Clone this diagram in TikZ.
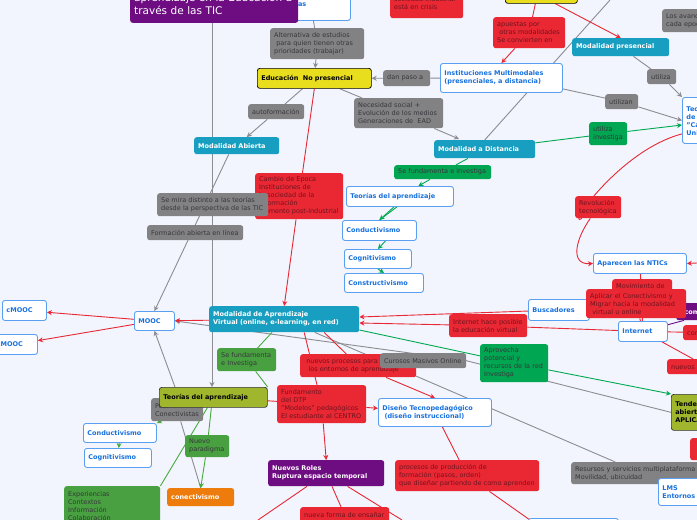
\documentclass[tikz,border=0pt]{standalone}
\usepackage{fontspec}
\setmainfont{DejaVu Sans}
\usetikzlibrary{arrows.meta,backgrounds}
\definecolor{bg}{RGB}{242,245,253}
\definecolor{teal}{RGB}{24,158,192}
\definecolor{gbox}{RGB}{130,130,132}
\definecolor{gtxt}{RGB}{55,55,60}
\definecolor{rbox}{RGB}{234,40,52}
\definecolor{rtxt}{RGB}{110,20,30}
\definecolor{gr1}{RGB}{0,166,81}
\definecolor{gr2}{RGB}{72,160,64}
\definecolor{yel}{RGB}{232,222,30}
\definecolor{ygr}{RGB}{160,182,44}
\definecolor{purp}{RGB}{110,12,130}
\definecolor{oran}{RGB}{238,124,12}
\definecolor{btxt}{RGB}{22,112,222}
\definecolor{bbrd}{RGB}{90,160,242}
\definecolor{lred}{RGB}{232,40,52}
\definecolor{lgr}{RGB}{140,140,145}
\definecolor{lgreen}{RGB}{0,170,80}
\definecolor{lgreen2}{RGB}{70,170,60}
\tikzset{
 fs/.style={font=\fontsize{6.5}{8}\selectfont},
 fsb/.style={font=\fontsize{6.5}{8}\selectfont\bfseries},
 base/.style={rounded corners=2.5pt,fs,align=left,inner xsep=4pt,inner ysep=1pt},
 wbox/.style={base,fill=white,draw=bbrd,line width=0.9pt,text=btxt,fsb},
 gbx/.style={base,fill=gbox,text=gtxt},
 rbx/.style={base,fill=rbox,text=rtxt},
 gnb/.style={base,fill=gr1,text=gtxt},
 gnb2/.style={base,fill=gr2,text=gtxt},
 tbx/.style={base,fill=teal,text=white,fsb},
 ybx/.style={base,fill=yel,draw=black,line width=0.7pt,fsb},
 ygb/.style={base,fill=ygr,draw=black!80,line width=0.7pt,fsb},
 pbx/.style={base,fill=purp,text=white,fsb},
 obx/.style={base,fill=oran,text=white,fsb},
 rl/.style={draw=lred,line width=0.9pt},
 gl/.style={draw=lgr,line width=0.9pt},
 grl/.style={draw=lgreen,line width=0.9pt},
 grl2/.style={draw=lgreen2,line width=0.9pt},
 ar/.style={-{Stealth[length=5pt,width=5pt]}},
}
\newcommand\nd[7]{\pgfmathsetmacro\tw{#5-8}\node[#2,anchor=north west,text width=\tw pt,minimum height=#6 pt] (#1) at (#3,#4) {#7};}
\begin{document}
\begin{tikzpicture}[x=1pt,y=-1pt]
\useasboundingbox (0,0) rectangle (697,520);
% nodes
\nd{col}{wbox}{268}{-20}{82}{40}{\ Colegios\\\ Escuelas}
\node[base,fill=purp,text=white,font=\fontsize{10.5}{12.5}\selectfont,anchor=south west,text width=160pt,minimum height=38pt] (tit) at (130,23) {aprendizaje en la Educación a\\través de las TIC};
\nd{soc}{rbx}{390}{-12}{73}{30}{sociedad industrial\\está en crisis}
\nd{ytop}{ybx}{505}{-20}{72}{23}{}
\nd{alt}{gbx}{270}{28}{94}{31}{Alternativa de estudios\\\ para quien tienen otras\\prioridades (trabajar)}
\nd{edu}{ybx}{257}{68}{114}{20}{Educación\ \ No presencial}
\nd{apu}{rbx}{493}{17}{72}{31}{apuestas por\\\ otras modalidades\\Se convierten en}
\nd{mpre}{tbx}{572}{38}{97}{18}{Modalidad presencial}
\nd{avan}{gbx}{662}{9}{70}{23}{Los avances de\\cada epoca}
\nd{inst}{wbox}{440}{63}{122}{29}{Instituciones Multimodales\\(presenciales, a distancia)}
\nd{dan}{gbx}{383}{70}{47}{16}{dan paso a}
\nd{nec}{gbx}{354}{98}{89}{30}{Necesidad social +\\Evolución de los medios\\Generaciones de\ \ EAD}
\nd{auto}{gbx}{248}{104}{56}{15}{autoformación}
\nd{mab}{tbx}{194}{137}{85}{17}{\centering Modalidad Abierta}
\nd{uti}{gbx}{647}{69}{29}{15}{utiliza}
\nd{utn}{gbx}{605}{94}{33}{15}{utilizan}
\nd{tec}{wbox}{682}{97}{60}{46}{Tecnologías\\de la\\"Cambio\\Universal"}
\nd{utin}{gnb}{589}{122}{38}{23}{utiliza\\investiga}
\nd{mdis}{tbx}{434}{140}{101}{18}{\centering Modalidad a Distancia}
\nd{sfi}{gnb}{394}{165}{97}{14}{Se fundamenta e investiga}
\nd{tea}{wbox}{346}{186}{107}{20}{\centering Teorías del aprendizaje}
\nd{con1}{wbox}{342}{220}{74}{20}{Conductivismo}
\nd{cog1}{wbox}{344}{249}{67}{19}{Cognitivismo}
\nd{cst1}{wbox}{344}{273}{79}{19}{Constructivismo}
\nd{camb}{rbx}{255}{173}{88}{46}{Cambio de Epoca\\Instituciones de\\la sociedad de la\\información\\Momento post-industrial}
\nd{mira}{gbx}{157}{193}{111}{23}{Se mira distinto a las teorías\\desde la perspectiva de las TIC}
\nd{form}{gbx}{147}{225}{96}{15}{Formación abierta en línea}
\nd{rev}{rbx}{575}{196}{46}{22}{Revolución\\tecnológica}
\nd{ntic}{wbox}{593}{253}{93}{20}{\centering Aparecen las NTICs}
\nd{mov}{rbx}{612}{279}{60}{14}{Movimiento de}
\nd{busc}{wbox}{528}{299}{61}{21}{\centering Buscadores}
\nd{comu}{pbx}{676}{303}{80}{17}{\ \ comunidades}
\nd{apl}{rbx}{586}{289}{100}{29}{Aplicar el Conectivismo y\\Migrar hacia la modalidad\\\ virtual u online}
\nd{inte}{wbox}{618}{321}{49}{20}{\centering Internet}
\nd{co}{rbx}{683}{325}{60}{15}{contenidos}
\nd{nue}{rbx}{667}{359}{80}{15}{nuevos servicios}
\nd{ihp}{rbx}{449}{314}{78}{23}{Internet hace posible\\la educación virtual}
\nd{mvir}{tbx}{209}{306}{150}{26}{Modalidad de Aprendizaje\\Virtual (online, e-learning, en red)}
\nd{mooc}{wbox}{134}{311}{40}{19}{\centering MOOC}
\nd{cmo}{wbox}{2}{300}{44}{20}{\centering cMOOC}
\nd{xmo}{wbox}{-8}{334}{45}{20}{\centering xMOOC}
\nd{apr}{gnb}{480}{344}{68}{38}{Aprovecha\\potencial y\\recursos de la red\\Investiga}
\nd{npr}{rbx}{300}{354}{116}{23}{\ nuevos procesos para el\\\ \ los entornos de aprendizaje}
\nd{cur}{gbx}{380}{353}{86}{15}{Curosos Masivos Online}
\nd{ten}{ygb}{671}{394}{60}{36}{Tendencias\\abiertas\\APLICADAS}
\nd{r2}{rbx}{690}{438}{30}{22}{}
\nd{res}{gbx}{571}{462}{140}{22}{Resursos y servicios multiplataforma\\Movilidad, ubicuidad}
\nd{lms}{wbox}{658}{478}{60}{27}{LMS\\Entornos}
\nd{sfe}{gnb2}{217}{348}{59}{23}{Se fundamenta\\e Investiga}
\nd{fun}{rbx}{277}{385}{89}{38}{Fundamento\\del DTP\\"Modelos" pedagógicos\\El estudiante al CENTRO}
\nd{dis}{wbox}{378}{398}{113}{28}{Diseño Tecnopedagógico\\\ (diseño instruccional)}
\nd{post}{gbx}{151}{398}{52}{23}{Post\\Conectivistas}
\nd{teo}{ygb}{159}{387}{108}{20}{\centering Teorías del aprendizaje}
\nd{con2}{wbox}{83}{423}{73}{19}{\centering Conductivismo}
\nd{cog2}{wbox}{84}{448}{67}{19}{\centering Cognitivismo}
\nd{npa}{gnb2}{185}{435}{44}{22}{Nuevo\\paradigma}
\nd{cnv}{obx}{167}{488}{67}{18}{\centering conectivismo}
\nd{exp}{gnb2}{64}{486}{96}{40}{Experiencias\\Contextos\\Información\\Colaboración}
\nd{rol}{pbx}{268}{460}{116}{26}{Nuevos Roles\\Ruptura espacio temporal}
\nd{nfe}{rbx}{300}{507}{89}{16}{nueva forma de ensañar}
\nd{pro}{rbx}{395}{460}{144}{31}{procesos de producción de\\formación (pasos, orden)\\que diseñar partiendo de como aprenden}
\nd{bot}{wbox}{528}{518}{90}{20}{}
\coordinate (rr) at (697,263);
\coordinate (b1) at (258,520);
\coordinate (b2) at (402,520);
\coordinate (b3) at (530,520);
\coordinate (tt) at (610,0);
\begin{scope}[on background layer]
\fill[bg] (0,0) rectangle (697,520);
% gray
\draw[gl,ar] (col.south) ++(4,0) -- (alt) -- (edu);
\draw[gl,ar] (tit.south -| 212,0) -- (teo.north -| 212,0);
\draw[gl,ar] (edu) -- (auto) -- (mab);
\draw[gl,ar] (mab.south) ++(-8,0) -- (mooc.north);
\draw[gl,ar] (inst) -- (dan) -- (edu);
\draw[gl,ar] (edu.south east) ++(-32,0) -- (nec) -- (459,139);
\draw[gl] (tt) -- (mdis.north);
\draw[gl,ar] (mpre) -- (uti) -- (tec.north west);
\draw[gl,ar] (inst.south east) ++(0,-4) -- (utn) -- (tec.west);
\draw[gl,ar] (ten.west) -- (cur.east) -- (mooc.east);
\draw[gl] (mvir) -- (res);
\draw[gl,ar] (teo.north west) ++(16,0) -- (mooc.south);
\draw[gl] (post) -- (cnv.north);
% red
\draw[rl,ar] (ytop.south) ++(-6,0) -- (apu) -- (inst.north);
\draw[rl,ar] (ytop.south) ++(14,0) -- (mpre.north);
\draw[rl,ar] (edu.south) -- (camb) -- (mvir.north);
\draw[rl,ar] (tec.south west) ++(0,-10) .. controls (620,150) and (565,230) .. (rev) .. controls (575,240) and (570,265) .. (ntic.west);
\draw[rl,ar] (rr) -- (ntic.east);
\draw[rl] (ntic) -- (inte);
\draw[rl] (inte) -- (apl);
\draw[rl] (inte) -- (co);
\draw[rl] (inte) -- (nue);
\draw[draw=purp,line width=0.9pt] (inte) -- (comu);
\draw[rl,ar] (busc) -- (mvir.east |- 0,317);
\draw[rl,ar] (inte) -- (ihp) -- (mvir.east |- 0,323);
\draw[rl,ar] (mvir) -- (mooc);
\draw[rl,ar] (mooc) -- (cmo);
\draw[rl,ar] (mooc) -- (xmo);
\draw[rl,ar] (mvir.south) ++(40,0) -- (npr) -- (dis.north);
\draw[rl,ar] (mvir.south) ++(20,0) -- (fun) -- (rol.north);
\draw[rl,ar] (fun) -- (dis);
\draw[rl] (teo) -- (fun);
\draw[rl] (dis) -- (pro) -- (b3);
\draw[rl] (rol) -- (b1);
\draw[rl] (rol) -- (nfe);
\draw[rl] (rol) -- (b2);
% green
\draw[grl,ar] (mdis) -- (utin) -- (tec.west |- 0,125);
\draw[grl,ar] (mdis) -- (sfi) -- (tea);
\draw[grl,ar] (tea.south) ++(-6,0) -- (con1.north);
\draw[grl] (tea.south) ++(-3,0) -- (con1.north) ++(6,0);
\draw[grl,ar] (con1.south) ++(6,0) -- (cog1.north);
\draw[grl,ar] (cog1.south) -- (cst1.north);
\draw[grl,ar] (mvir.east |- 0,330) -- (apr) -- (ten.north west);
\draw[grl2,ar] (mvir) -- (sfe) -- (teo.north east) ++(-30,0);
\draw[grl2,ar] (teo) -- (con2.north east);
\draw[grl2,ar] (con2) -- (cog2);
\draw[grl2,ar] (teo.south) ++(-2,0) -- (npa) -- (cnv.north);
\draw[grl2] (teo.south) ++(-6,0) -- (exp.north east) ++(-20,0);
\end{scope}
\end{tikzpicture}
\end{document}
